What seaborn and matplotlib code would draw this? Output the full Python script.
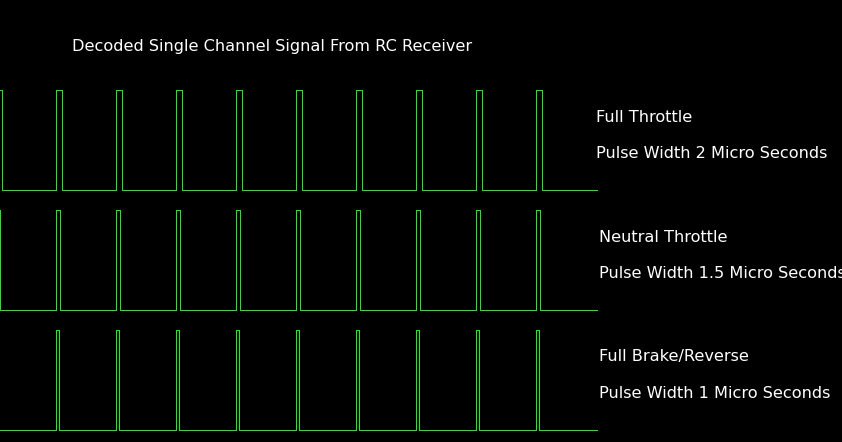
import numpy as np
import pandas as pd
import seaborn as sns
import matplotlib.pyplot as plt

# signal data (ms): one pulse every 20 ms, width depends on throttle position
period = 20.0
first_rise = -1.5
n_pulses = 10
trace_end = 198.7
pulse_widths = [2.0, 1.5, 1.0]
row_names = ["Full Throttle", "Neutral Throttle", "Full Brake/Reverse"]
row_notes = ["Pulse Width 2 Micro Seconds", "Pulse Width 1.5 Micro Seconds",
             "Pulse Width 1 Micro Seconds"]
title = "Decoded Single Channel Signal From RC Receiver"

sns.set_theme(style="dark", rc={"figure.facecolor": "black", "axes.facecolor": "black"})
plt.rcParams['font.family'] = ['DejaVu Sans']

W, H = 842, 442
fig = plt.figure(figsize=(W / 100, H / 100), dpi=100)
x_max = W / 3.0  # 3 px per ms


def pulse_train(width):
    rises = first_rise + period * np.arange(n_pulses)
    pts = []
    for r in rises:
        pts.append((r, 1))
        pts.append((r + width, 0))
    # level just before t=0
    level = 0
    for tt, lv in pts:
        if tt < 0:
            level = lv
    xs, ys = [0.0], [level]
    for tt, lv in pts:
        if tt < 0:
            continue
        xs += [tt, tt]
        ys += [ys[-1], lv]
    xs.append(trace_end)
    ys.append(ys[-1])
    return pd.DataFrame({"t": xs, "level": ys})


row_top_px = [90, 210, 330]
for i, w in enumerate(pulse_widths):
    top = row_top_px[i]
    # axes spans pixel rows top-10 .. top+110, levels 0..1 map to top+100..top
    ax = fig.add_axes([0, 1 - (top + 110) / H, 1, 120 / H])
    df = pulse_train(w)
    sns.lineplot(data=df, x="t", y="level", sort=False, estimator=None,
                 color="#00ff00", linewidth=0.72, ax=ax, antialiased=False)
    ax.set_xlim(-0.15, x_max - 0.15)
    ax.set_ylim(-0.1, 1.1)
    ax.axis("off")

fig.text(72 / W, 1 - 47 / H, title, color="white", fontsize=11.6, va="center", ha="left")
label_x = [596, 599, 599]
for i in range(3):
    top = row_top_px[i]
    fig.text(label_x[i] / W, 1 - (top + 27) / H, row_names[i], color="white",
             fontsize=11.6, va="center", ha="left")
    fig.text(label_x[i] / W, 1 - (top + 63) / H, row_notes[i], color="white",
             fontsize=11.6, va="center", ha="left")

fig.savefig("out.png", dpi=100, facecolor="black")
